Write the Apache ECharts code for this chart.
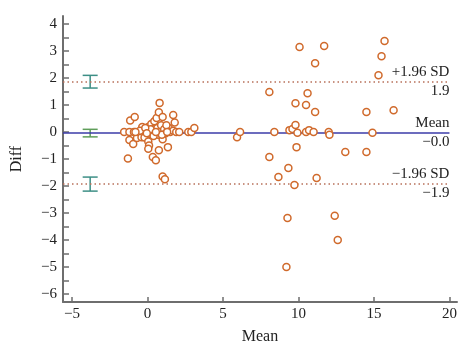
<!DOCTYPE html>
<html><head><meta charset="utf-8">
<script src="https://cdn.jsdelivr.net/npm/echarts@6/dist/echarts.min.js"></script>
<style>html,body{margin:0;padding:0;background:#fff}#c{width:474px;height:361px}</style>
</head><body><div id="c"></div>
<script>
// Scatter data: [mean, diff]
const leftX = [-1.55,-1.3,-1.15,-0.85,-1.2,-0.9,-1.2,-0.95,-0.7,-0.6,-0.4,-0.35,-0.3,-0.2,-0.1,0.05,0.05,0.1,0.05,0.15,0.25,0.3,0.35,0.35,0.45,0.5,0.55,0.6,0.65,0.7,0.75,0.75,0.8,0.85,0.9,1.0,1.0,1.0,1.15,1.1,1.2,1.35,1.4,1.5,1.7,1.8,1.7,1.9,2.1,2.7,2.9,3.1,-0.5,0.2,-0.15,0.4,1.25,0.95,-0.8,0.55,-0.05,1.3];
const leftY = [0.0,-0.98,0.43,0.56,0.0,0.0,-0.3,-0.44,-0.22,0.0,-0.19,0.19,0.0,-0.2,0.05,0.19,-0.35,-0.5,-0.62,0.0,0.3,-0.1,0.1,-0.93,0.4,0.0,-1.05,0.52,0.15,-0.1,-0.68,0.73,1.08,0.0,0.25,0.56,-0.27,-1.65,-1.75,0.1,-0.05,-0.56,0.15,0.0,0.63,0.35,0.05,0.0,0.0,0.0,0.0,0.15,0.05,0.1,0.15,-0.15,0.25,-0.1,0.0,0.0,-0.05,0.0];
const rightX = [5.93,6.13,8.07,8.07,8.4,8.67,9.2,9.27,9.33,9.4,9.6,9.73,9.8,9.8,9.87,9.93,10.07,10.5,10.5,10.6,10.7,11.0,11.1,11.1,11.2,11.7,12.0,12.05,12.4,12.6,13.1,14.5,14.5,14.9,15.3,15.5,15.7,16.3];
const rightY = [-0.19,0.0,1.48,-0.93,0.0,-1.67,-5.0,-3.19,-1.33,0.07,0.11,-1.96,0.26,1.07,-0.56,-0.03,3.15,1.0,0.0,1.44,0.07,0.0,2.55,0.74,-1.7,3.19,0.0,-0.1,-3.1,-4.0,-0.74,0.74,-0.74,-0.03,2.1,2.81,3.37,0.81];

// Reference lines
const lineNames = ['upper','mean','lower'];
const lineValues = [1.87, -0.02, -1.92];
const lineTopLabels = ['+1.96 SD','Mean','\u22121.96 SD'];
const lineBottomLabels = ['1.9','\u22120.0','\u22121.9'];
const lineStartX = -5.6, lineEndX = 20;

// Confidence interval error bars: [x, low, high]
const ciX = [-3.8, -3.8, -3.8];
const ciLow = [1.63, -0.18, -2.19];
const ciHigh = [2.1, 0.1, -1.67];
const ciColors = ['#3d8f86','#5f9e5a','#3d8f86'];

// Axis ticks
const xLabels = [-5,0,5,10,15,20];
const yLabels = [-6,-5,-4,-3,-2,-1,0,1,2,3,4];
const yTicks = [-6,-5.5,-5,-4.5,-4,-3.5,-3,-2.5,-2,-1.5,-1,-0.5,0,0.5,1,1.5,2,2.5,3,3.5,4];

const FONT = 'Liberation Serif';
const pts = leftX.map((x,i)=>[x,leftY[i]]).concat(rightX.map((x,i)=>[x,rightY[i]]));

const markLines = [];
lineValues.forEach((v,i)=>{
  const isMean = i===1;
  const style = isMean ? {color:'#3b3ba8', width:1.5, type:'solid'} : {color:'#b8705a', width:1.5, type:[1.5,3]};
  markLines.push([{coord:[lineStartX,v], lineStyle:style, label:{show:true, position:'insideEndTop', formatter:lineTopLabels[i], distance:[0,2]}},{coord:[lineEndX,v]}]);
  markLines.push([{coord:[lineStartX,v], lineStyle:{color:'rgba(0,0,0,0)', width:0.1}, label:{show:true, position:'insideEndBottom', formatter:lineBottomLabels[i], distance:[0,2], color:'#222'}},{coord:[lineEndX,v]}]);
});

const axisCommon = {
  axisLine:{show:true, onZero:false, lineStyle:{color:'#6e6e6e', width:2}},
  splitLine:{show:false},
  nameTextStyle:{fontFamily:FONT, fontSize:16, color:'#222'},
};

const chart = echarts.init(document.getElementById('c'), null, {renderer:'canvas'});
chart.setOption({
  animation:false,
  backgroundColor:'#fff',
  grid:{left:63, right:17, top:16, bottom:59},
  xAxis:Object.assign({}, axisCommon, {
    type:'value', min:-5.6, max:20.5,
    name:'Mean', nameLocation:'middle', nameGap:27,
    axisTick:{show:true, inside:true, length:5, customValues:xLabels, lineStyle:{color:'#6e6e6e', width:1.5}},
    axisLabel:{customValues:xLabels, fontFamily:FONT, fontSize:15, color:'#222', margin:5,
      formatter:v=>String(v).replace('-','\u2212')}
  }),
  yAxis:Object.assign({}, axisCommon, {
    type:'value', min:-6.3, max:4.3,
    name:'Diff', nameLocation:'middle', nameGap:38,
    axisTick:{show:true, inside:true, length:6, customValues:yTicks, lineStyle:{color:'#6e6e6e', width:1.5}},
    axisLabel:{customValues:yLabels, fontFamily:FONT, fontSize:15, color:'#222', margin:6,
      formatter:v=>String(v).replace('-','\u2212')}
  }),
  series:[
    {
      type:'line', data:[], silent:true,
      markLine:{symbol:'none', silent:true, animation:false,
        label:{fontFamily:FONT, fontSize:15, color:'#222'},
        data:markLines}
    },
    {
      type:'scatter', data:pts, symbol:'circle', symbolSize:7,
      itemStyle:{color:'#fff', borderColor:'#d06a2c', borderWidth:1.5, opacity:1},
      z:5
    },
    {
      type:'custom', z:4,
      data:ciX.map((x,i)=>[x,ciLow[i],ciHigh[i],i]),
      renderItem:(params, api)=>{
        const x = api.value(0);
        const lo = api.coord([x, api.value(1)]);
        const hi = api.coord([x, api.value(2)]);
        const c = ciColors[api.value(3)];
        const hw = 7.5;
        const st = {stroke:c, lineWidth:1.5};
        return {type:'group', children:[
          {type:'line', shape:{x1:lo[0],y1:lo[1],x2:hi[0],y2:hi[1]}, style:st},
          {type:'line', shape:{x1:lo[0]-hw,y1:lo[1],x2:lo[0]+hw,y2:lo[1]}, style:st},
          {type:'line', shape:{x1:hi[0]-hw,y1:hi[1],x2:hi[0]+hw,y2:hi[1]}, style:st}
        ]};
      }
    }
  ]
});
</script></body></html>
